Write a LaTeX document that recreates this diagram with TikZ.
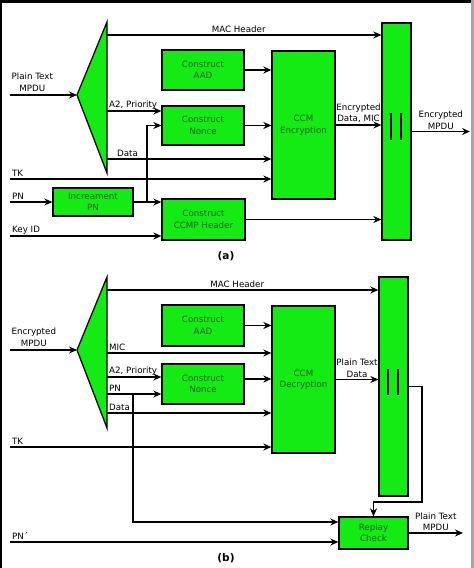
\documentclass[tikz,border=0pt]{standalone}
\usepackage{fontspec}
\setmainfont{DejaVu Sans}
\usetikzlibrary{arrows.meta}
\usetikzlibrary{positioning}
\definecolor{boxgreen}{RGB}{20,235,20}
\definecolor{boxtext}{RGB}{30,95,30}
\tikzset{wire/.style = {line width=1.3pt}}
\tikzset{arr/.style = {wire, -{Stealth[length=8pt,width=7pt]}}}
\tikzset{lbl/.style = {font=\fontsize{8.7}{11.5}\selectfont, align=center, inner sep=1.5pt}}
\tikzset{blk/.style = {draw, wire, fill=boxgreen, text=boxtext, align=center, inner sep=0,
    font=\fontsize{8.7}{11.5}\selectfont}}

\begin{document}
\begin{tikzpicture}[x=1pt, y=-1pt]
    \useasboundingbox (0,0) rectangle (474,568);
    \fill (0,0) rectangle (474,2.5);
    \fill (0,0) rectangle (2,568);
    \fill[gray!70] (471,0) rectangle (474,568);

    \filldraw[wire, fill=boxgreen] (77,95) -- (107,22) -- (107,173) -- cycle;
    \coordinate (tipA) at (77,95);
    \node [blk, minimum width=82pt, minimum height=40pt] (aadA) at (203,70) {Construct\\AAD};
    \node [blk, minimum width=82pt, minimum height=39pt] (nonceA) at (203,125.5) {Construct\\Nonce};
    \node [blk, minimum width=63pt, minimum height=148pt] (ccmA) at (303.5,125) {CCM\\Encryption};
    \node [blk, minimum width=80pt, minimum height=28pt] (incPN) at (93,202) {Increament\\PN};
    \node [blk, minimum width=83pt, minimum height=41pt] (hdrA) at (203.5,219.5) {Construct\\CCMP Header};
    \node [blk, minimum width=29pt, minimum height=217pt] (catA) at (396.5,131.5) {};
    \draw[wire] (391,113) -- (391,140);
    \draw[wire] (401,113) -- (401,140);

    \coordinate (inA) at (10,95);
    \coordinate (macA) at (107,35);
    \coordinate (a2A) at (107,111);
    \coordinate (dataA) at (107,159);
    \coordinate (tkA) at (10,179);
    \coordinate (pnA) at (10,202);
    \coordinate (keyA) at (10,236);
    \coordinate (brA) at (147,202);
    \coordinate (outA) at (470,131.5);

    \draw[arr] (inA) -- (tipA);
    \node [lbl, anchor=south west] (inLblA) at ([yshift=2pt]inA) {Plain Text\\MPDU};
    \draw[arr] (macA) -- node[lbl, above, pos=0.48] {MAC Header} (catA.west |- macA);
    \draw[arr] (aadA.east) -- (ccmA.west |- aadA.east);
    \draw[arr] (a2A) -- node[lbl, above right, pos=0] {A2, Priority} (nonceA.west |- a2A);
    \draw[arr] (nonceA.east) -- (ccmA.west |- nonceA.east);
    \draw[arr] (dataA) -- node[lbl, above right, pos=0, xshift=8pt] {Data} (ccmA.west |- dataA);
    \draw[arr] (tkA) -- node[lbl, above right, pos=0] {TK} (ccmA.west |- tkA);
    \draw[arr] (pnA) -- node[lbl, above right, pos=0] {PN} (incPN.west);
    \draw[arr] (incPN.east) -- (hdrA.west |- incPN.east);
    \draw[arr] (brA) |- (nonceA.west);
    \draw[arr] (keyA) -- node[lbl, above right, pos=0] {Key ID} (hdrA.west |- keyA);
    \draw[arr] (hdrA.east) -- (catA.west |- hdrA.east);
    \draw[arr] (ccmA.east) -- node[lbl, above] {Encrypted\\Data, MIC} (catA.west |- ccmA.east);
    \draw[arr] (catA.east) -- node[lbl, above] {Encrypted\\MPDU} (outA);
    \node [lbl, font=\fontsize{10.5}{12}\selectfont\bfseries] (capA) at (226,256) {(a)};

    \filldraw[wire, fill=boxgreen] (77,350) -- (107,277) -- (107,428) -- cycle;
    \coordinate (tipB) at (77,350);
    \node [blk, minimum width=82pt, minimum height=41pt] (aadB) at (203,325.5) {Construct\\AAD};
    \node [blk, minimum width=82pt, minimum height=40pt] (nonceB) at (203,384) {Construct\\Nonce};
    \node [blk, minimum width=63pt, minimum height=147pt] (ccmB) at (303.5,379.5) {CCM\\Decryption};
    \node [blk, minimum width=29pt, minimum height=219pt] (catB) at (393.5,386.5) {};
    \node [blk, minimum width=69pt, minimum height=32pt] (replay) at (373.5,533) {Replay\\Check};
    \draw[wire] (388,369) -- (388,395);
    \draw[wire] (398,369) -- (398,395);

    \coordinate (inB) at (10,350);
    \coordinate (macB) at (107,290);
    \coordinate (micB) at (107,353);
    \coordinate (a2B) at (107,377);
    \coordinate (pnB) at (107,394);
    \coordinate (brB) at (133,394);
    \coordinate (dataB) at (107,413);
    \coordinate (tkB) at (10,447);
    \coordinate (turnB) at (422,502);
    \coordinate (pnpB) at (10,542);
    \coordinate (outB) at (463,533);
    \coordinate (nonceOutB) at ([yshift=5pt]nonceB.east);

    \draw[arr] (inB) -- (tipB);
    \node [lbl, anchor=south west] (inLblB) at ([yshift=2pt]inB) {Encrypted\\MPDU};
    \draw[arr] (macB) -- node[lbl, above, pos=0.48] {MAC Header} (catB.west |- macB);
    \draw[arr] (aadB.east) -- (ccmB.west |- aadB.east);
    \draw[arr] (micB) -- node[lbl, above right, pos=0] {MIC} (ccmB.west |- micB);
    \draw[arr] (a2B) -- node[lbl, above right, pos=0] {A2, Priority} (nonceB.west |- a2B);
    \draw[arr] (pnB) -- node[lbl, above right, pos=0] {PN} (nonceB.west |- pnB);
    \draw[arr] (brB) |- ([yshift=11pt]replay.west);
    \draw[arr] (nonceOutB) -- (ccmB.west |- nonceOutB);
    \draw[arr] (dataB) -- node[lbl, above right, pos=0] {Data} (ccmB.west |- dataB);
    \draw[arr] (tkB) -- node[lbl, above right, pos=0] {TK} (ccmB.west |- tkB);
    \draw[arr] (ccmB.east) -- node[lbl, above] {Plain Text\\Data} (catB.west |- ccmB.east);
    \draw[arr] (catB.east) -| (turnB) -| (replay.north);
    \draw[arr] (pnpB) -- node[lbl, above right, pos=0] {PN´} ([yshift=-9pt]replay.west);
    \draw[arr] (replay.east) -- node[lbl, above] {Plain Text\\MPDU} (outB);
    \node [lbl, font=\fontsize{10.5}{12}\selectfont\bfseries] (capB) at (226,558) {(b)};
  \end{tikzpicture}
\end{document}
